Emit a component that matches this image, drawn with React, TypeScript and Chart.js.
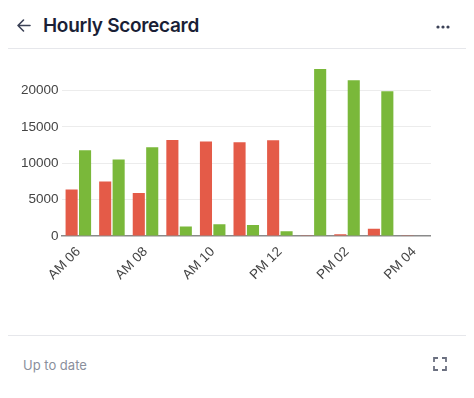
import React, { useEffect, useRef } from "react";
import { Chart, registerables } from "chart.js";

Chart.register(...registerables);

const categories = ["AM 06", "AM 07", "AM 08", "AM 09", "AM 10", "AM 11", "PM 12", "PM 01", "PM 02", "PM 03", "PM 04"];
const redValues = [6400, 7500, 5900, 13200, 13000, 12900, 13150, 100, 230, 1000, 30];
const greenValues = [11800, 10500, 12200, 1300, 1600, 1500, 650, 22950, 21400, 19900, 60];
const yTicks = [0, 5000, 10000, 15000, 20000];

const FONT = "'Liberation Sans', Arial, sans-serif";
const UI_FONT = "Inter, 'Noto Sans', sans-serif";

function ScoreChart() {
  const ref = useRef<HTMLCanvasElement | null>(null);
  useEffect(() => {
    if (!ref.current) return;
    const chart = new Chart(ref.current, {
      type: "bar",
      data: {
        labels: categories,
        datasets: [
          { label: "Red", data: redValues, backgroundColor: "#E45B48", borderWidth: 0 },
          { label: "Green", data: greenValues, backgroundColor: "#7AB83A", borderWidth: 0 },
        ],
      },
      options: {
        animation: false,
        responsive: true,
        maintainAspectRatio: false,
        plugins: { legend: { display: false }, tooltip: { enabled: false } },
        layout: { padding: { left: 0, right: 0, top: 0, bottom: 0 } },
        scales: {
          x: {
            grid: { display: false },
            border: { display: true, color: "#8a8a8a", width: 1.5 },
            ticks: {
              autoSkip: false,
              maxRotation: 45,
              minRotation: 45,
              padding: 0,
              color: "#444",
              font: { family: FONT, size: 13.5 },
              callback: (_v: any, i: number) => (i % 2 === 0 ? categories[i] : ""),
            },
          },
          y: {
            min: 0,
            max: Math.max(...greenValues, ...redValues),
            afterBuildTicks: (axis: any) => {
              axis.ticks = yTicks.map((v) => ({ value: v }));
            },
            ticks: {
              color: "#444",
              padding: 3,
              font: { family: FONT, size: 13.5 },
              callback: (v: any) => String(v),
            },
            grid: { color: "#ececec", drawTicks: false },
            border: { display: false },
          },
        },
      },
    });
    return () => chart.destroy();
  }, []);
  return <canvas ref={ref} />;
}

export default function App() {
  return (
    <div style={{ position: "relative", width: 474, height: 398, margin: -8, background: "#f7f7f8", fontFamily: UI_FONT }}>
      <div
        style={{
          position: "absolute",
          left: 3,
          top: 3,
          width: 466,
          height: 389,
          background: "#fff",
          border: "1px solid #e3e4e8",
          borderRadius: 6,
          boxShadow: "0 1px 2px rgba(0,0,0,0.06)",
          overflow: "hidden",
        }}
      >
        <div style={{ position: "absolute", left: 0, top: 0, right: 0, height: 44, borderBottom: "1px solid #e6e7eb" }}>
          <svg style={{ position: "absolute", left: 12, top: 14 }} width="15" height="15" viewBox="0 0 15 15">
            <path d="M14 7.5H2 M7.5 2 L2 7.5 L7.5 13" stroke="#3c4257" strokeWidth="1.6" fill="none" strokeLinecap="round" strokeLinejoin="round" />
          </svg>
          <div style={{ position: "absolute", left: 39, top: 10, fontSize: 19, fontWeight: 600, color: "#1a1f36", letterSpacing: -0.3 }}>
            Hourly Scorecard
          </div>
          <svg style={{ position: "absolute", left: 432, top: 21 }} width="14" height="4" viewBox="0 0 14 4">
            <circle cx="2" cy="2" r="1.6" fill="#3c4257" />
            <circle cx="7" cy="2" r="1.6" fill="#3c4257" />
            <circle cx="12" cy="2" r="1.6" fill="#3c4257" />
          </svg>
        </div>
        <div style={{ position: "absolute", left: 14, top: 54, width: 413, height: 225 }}>
          <ScoreChart />
        </div>
        <div style={{ position: "absolute", left: 0, right: 0, top: 331, bottom: 0, borderTop: "1px solid #e6e7eb" }}>
          <div style={{ position: "absolute", left: 19, top: 21, fontSize: 13, color: "#8a8f9c" }}>Up to date</div>
          <svg style={{ position: "absolute", left: 429, top: 21 }} width="14" height="14" viewBox="0 0 14 14">
            <path d="M1 5V1H5 M9 1H13V5 M13 9V13H9 M5 13H1V9" stroke="#6b7080" strokeWidth="1.8" fill="none" />
          </svg>
        </div>
      </div>
    </div>
  );
}
